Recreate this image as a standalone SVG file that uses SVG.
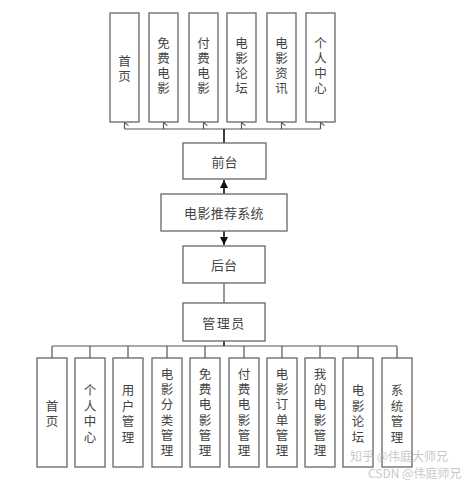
<svg xmlns="http://www.w3.org/2000/svg" width="474" height="483" viewBox="0 0 474 483">
<style>
.box{fill:#fff;stroke:#666;stroke-width:1.3}
.t{font-family:"Noto Sans CJK SC",sans-serif;font-size:12.5px;fill:#444;text-anchor:middle}
.h{font-family:"Noto Sans CJK SC",sans-serif;font-size:13px;fill:#444;text-anchor:middle;dominant-baseline:central}
.ln{fill:none;stroke:#555;stroke-width:1.2}
.tk{fill:none;stroke:#111;stroke-width:1.6}
.wm{font-family:"Noto Sans CJK SC",sans-serif;font-size:12px;fill:#bbb;opacity:0.8}
</style>
<defs>
<marker id="open" viewBox="0 0 10 10" refX="5" refY="1" markerWidth="8" markerHeight="8" orient="auto-start-reverse" markerUnits="userSpaceOnUse">
<path d="M1,6 L5,1 L9,6" fill="none" stroke="#555" stroke-width="1.3"/>
</marker>
<marker id="fill" viewBox="0 0 10 10" refX="10" refY="5" markerWidth="8" markerHeight="8" orient="auto" markerUnits="userSpaceOnUse">
<path d="M0,0 L10,5 L0,10 Z" fill="#111"/>
</marker>
</defs>
<rect width="474" height="483" fill="#fff"/>
<g id="connectors">
<path class="ln" d="M124.5,129 H320.5"/>
<path class="ln" d="M124.5,129 V122.5" marker-end="url(#open)"/>
<path class="ln" d="M163.5,129 V122.5" marker-end="url(#open)"/>
<path class="ln" d="M203.5,129 V122.5" marker-end="url(#open)"/>
<path class="ln" d="M241.5,129 V122.5" marker-end="url(#open)"/>
<path class="ln" d="M281.5,129 V122.5" marker-end="url(#open)"/>
<path class="ln" d="M320.5,129 V122.5" marker-end="url(#open)"/>
<path class="tk" d="M224,129 V143"/>
<path class="tk" d="M224,194 V180" marker-end="url(#fill)"/>
<path class="tk" d="M224,231 V245" marker-end="url(#fill)"/>
<path class="ln" d="M224,283 V303"/>
<path class="tk" d="M224,341 V346"/>
<path class="ln" d="M52,346 H397"/>
<path class="ln" d="M52,346 V358 M90,346 V358 M128,346 V358 M167,346 V358 M205,346 V358 M244,346 V358 M282,346 V358 M320,346 V358 M358,346 V358 M397,346 V358"/>
</g>
<g id="top-shouye"><rect class="box" x="110" y="13" width="29" height="109"/><text class="t"><tspan x="124.5" y="66">首</tspan><tspan x="124.5" y="81">页</tspan></text></g>
<g id="top-mianfei"><rect class="box" x="149" y="13" width="29" height="109"/><text class="t"><tspan x="163.5" y="48">免</tspan><tspan x="163.5" y="63">费</tspan><tspan x="163.5" y="78">电</tspan><tspan x="163.5" y="93">影</tspan></text></g>
<g id="top-fufei"><rect class="box" x="189" y="13" width="29" height="109"/><text class="t"><tspan x="203.5" y="48">付</tspan><tspan x="203.5" y="63">费</tspan><tspan x="203.5" y="78">电</tspan><tspan x="203.5" y="93">影</tspan></text></g>
<g id="top-luntan"><rect class="box" x="227" y="13" width="29" height="109"/><text class="t"><tspan x="241.5" y="48">电</tspan><tspan x="241.5" y="63">影</tspan><tspan x="241.5" y="78">论</tspan><tspan x="241.5" y="93">坛</tspan></text></g>
<g id="top-zixun"><rect class="box" x="267" y="13" width="29" height="109"/><text class="t"><tspan x="281.5" y="48">电</tspan><tspan x="281.5" y="63">影</tspan><tspan x="281.5" y="78">资</tspan><tspan x="281.5" y="93">讯</tspan></text></g>
<g id="top-geren"><rect class="box" x="306" y="13" width="29" height="109"/><text class="t"><tspan x="320.5" y="48">个</tspan><tspan x="320.5" y="63">人</tspan><tspan x="320.5" y="78">中</tspan><tspan x="320.5" y="93">心</tspan></text></g>
<g id="qiantai"><rect class="box" x="183" y="143" width="83" height="36"/><text class="h" x="224.5" y="161">前台</text></g>
<g id="system"><rect class="box" x="161" y="194" width="126" height="37"/><text class="h" x="224" y="212.5" letter-spacing="0.3">电影推荐系统</text></g>
<g id="houtai"><rect class="box" x="183" y="246" width="82" height="37"/><text class="h" x="224" y="264.5">后台</text></g>
<g id="admin"><rect class="box" x="183" y="303" width="82" height="38"/><text class="h" x="224" y="322" letter-spacing="1.5">管理员</text></g>
<g id="b-shouye"><rect class="box" x="37" y="358" width="30" height="109"/><text class="t"><tspan x="52" y="411">首</tspan><tspan x="52" y="426">页</tspan></text></g>
<g id="b-geren"><rect class="box" x="75" y="358" width="30" height="109"/><text class="t"><tspan x="90" y="395">个</tspan><tspan x="90" y="410.5">人</tspan><tspan x="90" y="426">中</tspan><tspan x="90" y="441.5">心</tspan></text></g>
<g id="b-yonghu"><rect class="box" x="113" y="358" width="30" height="109"/><text class="t"><tspan x="128" y="395">用</tspan><tspan x="128" y="410.5">户</tspan><tspan x="128" y="426">管</tspan><tspan x="128" y="441.5">理</tspan></text></g>
<g id="b-fenlei"><rect class="box" x="152" y="358" width="30" height="109"/><text class="t"><tspan x="167" y="379">电</tspan><tspan x="167" y="394.2">影</tspan><tspan x="167" y="409.4">分</tspan><tspan x="167" y="424.6">类</tspan><tspan x="167" y="439.8">管</tspan><tspan x="167" y="455">理</tspan></text></g>
<g id="b-mianfei"><rect class="box" x="190" y="358" width="30" height="109"/><text class="t"><tspan x="205" y="379">免</tspan><tspan x="205" y="394.2">费</tspan><tspan x="205" y="409.4">电</tspan><tspan x="205" y="424.6">影</tspan><tspan x="205" y="439.8">管</tspan><tspan x="205" y="455">理</tspan></text></g>
<g id="b-fufei"><rect class="box" x="229" y="358" width="30" height="109"/><text class="t"><tspan x="244" y="379">付</tspan><tspan x="244" y="394.2">费</tspan><tspan x="244" y="409.4">电</tspan><tspan x="244" y="424.6">影</tspan><tspan x="244" y="439.8">管</tspan><tspan x="244" y="455">理</tspan></text></g>
<g id="b-dingdan"><rect class="box" x="267" y="358" width="30" height="109"/><text class="t"><tspan x="282" y="379">电</tspan><tspan x="282" y="394.2">影</tspan><tspan x="282" y="409.4">订</tspan><tspan x="282" y="424.6">单</tspan><tspan x="282" y="439.8">管</tspan><tspan x="282" y="455">理</tspan></text></g>
<g id="b-wode"><rect class="box" x="305" y="358" width="30" height="109"/><text class="t"><tspan x="320" y="379">我</tspan><tspan x="320" y="394.2">的</tspan><tspan x="320" y="409.4">电</tspan><tspan x="320" y="424.6">影</tspan><tspan x="320" y="439.8">管</tspan><tspan x="320" y="455">理</tspan></text></g>
<g id="b-luntan"><rect class="box" x="343" y="358" width="30" height="109"/><text class="t"><tspan x="358" y="395">电</tspan><tspan x="358" y="410.5">影</tspan><tspan x="358" y="426">论</tspan><tspan x="358" y="441.5">坛</tspan></text></g>
<g id="b-xitong"><rect class="box" x="382" y="358" width="30" height="109"/><text class="t"><tspan x="397" y="395">系</tspan><tspan x="397" y="410.5">统</tspan><tspan x="397" y="426">管</tspan><tspan x="397" y="441.5">理</tspan></text></g>
<text class="wm" x="350" y="461">知乎 @伟庭大师兄</text>
<text class="wm" x="368" y="478">CSDN @伟庭师兄</text>
</svg>
